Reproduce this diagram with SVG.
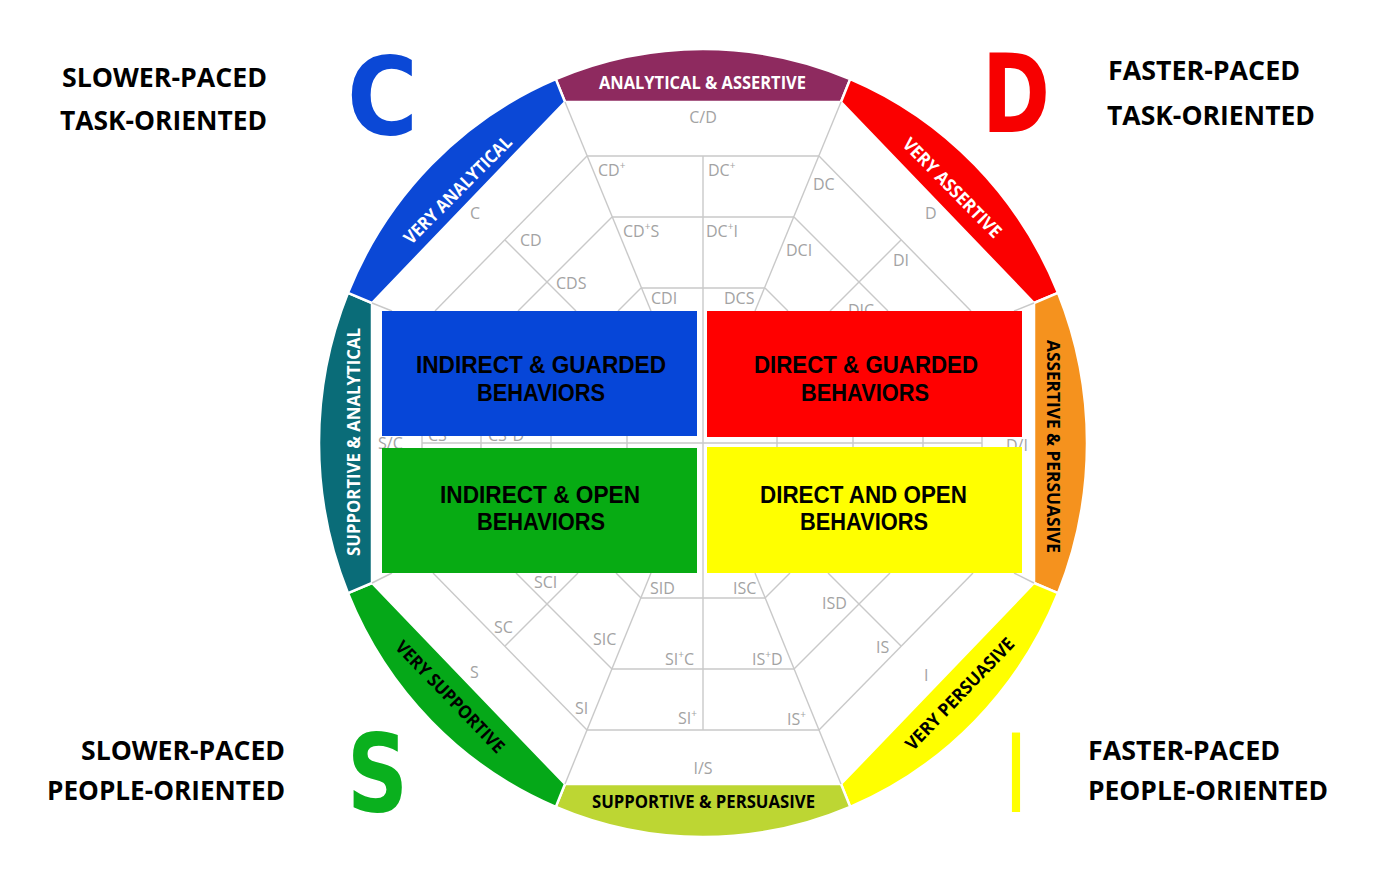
<svg xmlns="http://www.w3.org/2000/svg" width="1387" height="884" viewBox="0 0 1387 884">
<style>
.band{stroke:#fff;stroke-width:2.5;stroke-linejoin:miter}
.grid line{stroke:#c9c9c9;stroke-width:1.4;fill:none}
.lbl{font-family:"Open Sans","Liberation Sans",sans-serif;font-size:16px;fill:#a3a3a3}
.sup{font-size:10px}
.bt{font-family:"Open Sans","Liberation Sans",sans-serif;font-weight:700;font-size:18px}
.corner{font-family:"Open Sans","Liberation Sans",sans-serif;font-weight:700;font-size:26px;fill:#000}
.big{font-family:"DejaVu Sans","Open Sans",sans-serif;font-weight:700;font-size:108px}
.rt{font-family:"Liberation Sans","Open Sans",sans-serif;font-weight:700;font-size:23px;fill:#000;text-anchor:start}
</style>
<rect width="1387" height="884" fill="#fff"/>

<g id="ring">
<path class="band" fill="#8e2a5f" d="M565 102 L555.8 79.1 A384 394 0 0 1 850.2 79.1 L841 102 Z"/>
<path class="band" fill="#fb0000" d="M841 102 L850.2 79.1 A384 394 0 0 1 1058 292.8 L1034 303 Z"/>
<path class="band" fill="#f5921e" d="M1034 303 L1058 292.8 A384 394 0 0 1 1058 593.2 L1034 583 Z"/>
<path class="band" fill="#ffff00" d="M1034 583 L1058 593.2 A384 394 0 0 1 850.2 806.9 L841 784 Z"/>
<path class="band" fill="#bdd633" d="M841 784 L850.2 806.9 A384 394 0 0 1 555.8 806.9 L565 784 Z"/>
<path class="band" fill="#05a818" d="M565 784 L555.8 806.9 A384 394 0 0 1 348 593.2 L372 583 Z"/>
<path class="band" fill="#0a6c78" d="M372 583 L348 593.2 A384 394 0 0 1 348 292.8 L372 303 Z"/>
<path class="band" fill="#0b48d6" d="M372 303 L348 292.8 A384 394 0 0 1 555.8 79.1 L565 102 Z"/>
</g>

<g id="ring-labels">
<text class="bt" fill="#fff" x="599" y="89" textLength="207" lengthAdjust="spacingAndGlyphs">ANALYTICAL &amp; ASSERTIVE</text>
<text class="bt" fill="#000" x="592" y="808" textLength="223" lengthAdjust="spacingAndGlyphs">SUPPORTIVE &amp; PERSUASIVE</text>
<text class="bt" fill="#fff" transform="translate(353,442) rotate(-90)" x="-114" y="7" font-size="19" textLength="228" lengthAdjust="spacingAndGlyphs">SUPPORTIVE &amp; ANALYTICAL</text>
<text class="bt" fill="#000" transform="translate(1054,447) rotate(90)" x="-107" y="7" font-size="19" textLength="213" lengthAdjust="spacingAndGlyphs">ASSERTIVE &amp; PERSUASIVE</text>
<text class="bt" fill="#fff" transform="translate(458,190) rotate(-45)" x="-72" y="6" font-size="17" textLength="144" lengthAdjust="spacingAndGlyphs">VERY ANALYTICAL</text>
<text class="bt" fill="#fff" transform="translate(952,188) rotate(45.5)" x="-66" y="6" font-size="17" textLength="132" lengthAdjust="spacingAndGlyphs">VERY ASSERTIVE</text>
<text class="bt" fill="#000" transform="translate(450,697) rotate(46)" x="-74" y="6" font-size="17" textLength="148" lengthAdjust="spacingAndGlyphs">VERY SUPPORTIVE</text>
<text class="bt" fill="#000" transform="translate(960,694) rotate(-46)" x="-74" y="6" font-size="17" textLength="148" lengthAdjust="spacingAndGlyphs">VERY PERSUASIVE</text>
</g>

<g id="connectors" class="grid">
<line x1="565" y1="102" x2="651" y2="311"/>
<line x1="841" y1="102" x2="755" y2="311"/>
<line x1="587" y1="156" x2="819" y2="156"/>
<line x1="612" y1="217" x2="794" y2="217"/>
<line x1="641" y1="288" x2="765" y2="288"/>
<line x1="703" y1="156" x2="703" y2="730"/>
<line x1="587" y1="156" x2="435" y2="311"/>
<line x1="612" y1="217" x2="518" y2="311"/>
<line x1="641" y1="288" x2="618" y2="311"/>
<line x1="505" y1="240" x2="576" y2="311"/>
<line x1="819" y1="156" x2="971" y2="311"/>
<line x1="794" y1="217" x2="888" y2="311"/>
<line x1="765" y1="288" x2="788" y2="311"/>
<line x1="901" y1="240" x2="830" y2="311"/>
<line x1="372" y1="303" x2="392" y2="311"/>
<line x1="1034" y1="303" x2="1014" y2="311"/>
<line x1="565" y1="784" x2="651" y2="573"/>
<line x1="841" y1="784" x2="755" y2="573"/>
<line x1="587" y1="730" x2="819" y2="730"/>
<line x1="612" y1="669" x2="794" y2="669"/>
<line x1="641" y1="598" x2="765" y2="598"/>
<line x1="587" y1="730" x2="433" y2="573"/>
<line x1="612" y1="669" x2="516" y2="573"/>
<line x1="641" y1="598" x2="616" y2="573"/>
<line x1="505" y1="646" x2="578" y2="573"/>
<line x1="819" y1="730" x2="973" y2="573"/>
<line x1="794" y1="669" x2="890" y2="573"/>
<line x1="765" y1="598" x2="790" y2="573"/>
<line x1="901" y1="646" x2="828" y2="573"/>
<line x1="372" y1="583" x2="392" y2="573"/>
<line x1="1034" y1="583" x2="1014" y2="573"/>
<line x1="422" y1="443" x2="982" y2="443"/>
<line x1="422" y1="436" x2="422" y2="448"/>
<line x1="481" y1="436" x2="481" y2="448"/>
<line x1="551" y1="436" x2="551" y2="448"/>
<line x1="627" y1="436" x2="627" y2="448"/>
<line x1="777" y1="436" x2="777" y2="448"/>
<line x1="853" y1="436" x2="853" y2="448"/>
<line x1="923" y1="436" x2="923" y2="448"/>
<line x1="982" y1="436" x2="982" y2="448"/>
</g>

<g id="grid-labels" class="lbl">
<text x="703" y="123" text-anchor="middle">C/D</text>
<text x="598" y="176">CD<tspan class="sup" dy="-7">+</tspan></text>
<text x="708" y="176">DC<tspan class="sup" dy="-7">+</tspan></text>
<text x="623" y="237">CD<tspan class="sup" dy="-7">+</tspan><tspan dy="7">S</tspan></text>
<text x="706" y="237">DC<tspan class="sup" dy="-7">+</tspan><tspan dy="7">I</tspan></text>
<text x="651" y="304">CDI</text>
<text x="724" y="304">DCS</text>
<text x="470" y="219">C</text>
<text x="520" y="246">CD</text>
<text x="556" y="289">CDS</text>
<text x="813" y="190">DC</text>
<text x="925" y="219">D</text>
<text x="786" y="256">DCI</text>
<text x="893" y="266">DI</text>
<text x="848" y="316">DIC</text>
<text x="378" y="449">S/C</text>
<text x="428" y="441">CS</text>
<text x="488" y="441">CS<tspan class="sup" dy="-7">+</tspan><tspan dy="7">D</tspan></text>
<text x="556" y="461">SCD</text>
<text x="1006" y="451">D/I</text>
<text x="534" y="588">SCI</text>
<text x="650" y="594">SID</text>
<text x="733" y="594">ISC</text>
<text x="822" y="609">ISD</text>
<text x="494" y="633">SC</text>
<text x="593" y="645">SIC</text>
<text x="665" y="665">SI<tspan class="sup" dy="-7">+</tspan><tspan dy="7">C</tspan></text>
<text x="752" y="665">IS<tspan class="sup" dy="-7">+</tspan><tspan dy="7">D</tspan></text>
<text x="876" y="653">IS</text>
<text x="470" y="678">S</text>
<text x="924" y="681">I</text>
<text x="575" y="714">SI</text>
<text x="678" y="724">SI<tspan class="sup" dy="-7">+</tspan></text>
<text x="787" y="725">IS<tspan class="sup" dy="-7">+</tspan></text>
<text x="703" y="774" text-anchor="middle">I/S</text>
</g>

<g id="node-indirect-guarded">
<rect x="382" y="311" width="315" height="125" fill="#0646d8"/>
<text class="rt" x="416" y="373" textLength="250" lengthAdjust="spacingAndGlyphs">INDIRECT &amp; GUARDED</text>
<text class="rt" x="477" y="401" textLength="128" lengthAdjust="spacingAndGlyphs">BEHAVIORS</text>
</g>
<g id="node-direct-guarded">
<rect x="707" y="311" width="315" height="126" fill="#ff0000"/>
<text class="rt" x="754" y="373" textLength="224" lengthAdjust="spacingAndGlyphs">DIRECT &amp; GUARDED</text>
<text class="rt" x="801" y="401" textLength="128" lengthAdjust="spacingAndGlyphs">BEHAVIORS</text>
</g>
<g id="node-indirect-open">
<rect x="382" y="448" width="315" height="125" fill="#07ab13"/>
<text class="rt" x="440" y="503" textLength="200" lengthAdjust="spacingAndGlyphs">INDIRECT &amp; OPEN</text>
<text class="rt" x="477" y="530" textLength="128" lengthAdjust="spacingAndGlyphs">BEHAVIORS</text>
</g>
<g id="node-direct-open">
<rect x="707" y="447" width="315" height="126" fill="#ffff00"/>
<text class="rt" x="760" y="503" textLength="207" lengthAdjust="spacingAndGlyphs">DIRECT AND OPEN</text>
<text class="rt" x="800" y="530" textLength="128" lengthAdjust="spacingAndGlyphs">BEHAVIORS</text>
</g>

<g id="letters">
<text class="big" fill="#0b48d6" x="347" y="134" textLength="71" lengthAdjust="spacingAndGlyphs">C</text>
<text class="big" fill="#f70000" x="982" y="132" textLength="68" lengthAdjust="spacingAndGlyphs">D</text>
<text class="big" fill="#0ab01e" x="347" y="811" textLength="61" lengthAdjust="spacingAndGlyphs">S</text>
<text class="big" fill="#ffff00" x="1008" y="812" textLength="16" lengthAdjust="spacingAndGlyphs">I</text>
</g>

<g id="corner-labels">
<text class="corner" x="62" y="87" textLength="205" lengthAdjust="spacingAndGlyphs">SLOWER-PACED</text>
<text class="corner" x="60" y="130" textLength="207" lengthAdjust="spacingAndGlyphs">TASK-ORIENTED</text>
<text class="corner" x="1108" y="80" textLength="192" lengthAdjust="spacingAndGlyphs">FASTER-PACED</text>
<text class="corner" x="1107" y="125" textLength="208" lengthAdjust="spacingAndGlyphs">TASK-ORIENTED</text>
<text class="corner" x="81" y="760" textLength="204" lengthAdjust="spacingAndGlyphs">SLOWER-PACED</text>
<text class="corner" x="47" y="800" textLength="238" lengthAdjust="spacingAndGlyphs">PEOPLE-ORIENTED</text>
<text class="corner" x="1088" y="760" textLength="192" lengthAdjust="spacingAndGlyphs">FASTER-PACED</text>
<text class="corner" x="1088" y="800" textLength="240" lengthAdjust="spacingAndGlyphs">PEOPLE-ORIENTED</text>
</g>
</svg>
